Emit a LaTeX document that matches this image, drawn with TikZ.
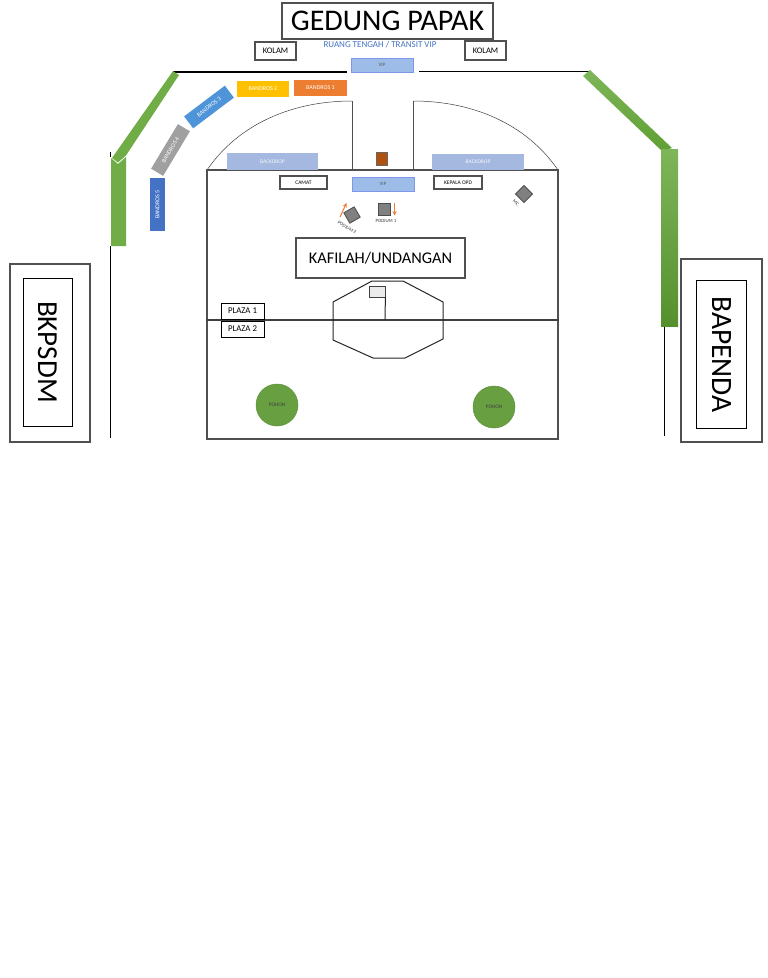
\documentclass[tikz,border=0pt]{standalone}
\usepackage{fontspec}
\setmainfont{Carlito}
\usetikzlibrary{shadings}
\definecolor{grn}{HTML}{70AD47}
\definecolor{grnd}{HTML}{5FA033}
\definecolor{bk}{HTML}{A4B8E0}
\definecolor{vip}{HTML}{9DBDE8}
\definecolor{wall}{HTML}{505050}
\definecolor{band1}{HTML}{ED7D31}
\definecolor{band2}{HTML}{FFC000}
\definecolor{band3}{HTML}{4F94D8}
\definecolor{band4}{HTML}{A0A0A0}
\definecolor{band5}{HTML}{4472C4}
\definecolor{brownbox}{HTML}{B0520F}
\newcommand{\fs}[1]{\fontsize{#1}{#1}\selectfont}
\tikzset{
 glow/.style={draw=wall,line width=1.2pt,fill=white,inner sep=0pt,text=black,
   append after command={
    \pgfextra{\draw[black!16,line width=1.4pt]
      ([shift={(1.6,1.6)}]\tikzlastnode.north west) rectangle ([shift={(-1.6,-1.6)}]\tikzlastnode.south east);}}},
 plain/.style={draw=black,line width=.7pt,fill=white,inner sep=0pt,text=black},
 vipbox/.style={draw=vip!80!blue,line width=.4pt,fill=vip,inner sep=0pt,text=black!65,font=\fs{5}},
 backdrop/.style={fill=bk,inner sep=0pt,text=white!90!bk,font=\fs{5.5}},
 bandros/.style={inner sep=0pt,text=white!85,font=\fs{6}},
 pohon/.style={circle,draw=grn!85!black,line width=.5pt,fill=grn!92!black,inner sep=0pt,minimum size=42pt,text=black!75,font=\fs{5.3}},
 podium/.style={draw=black!70,line width=.8pt,fill=black!50,inner sep=0pt,minimum size=12pt},
 tiny/.style={inner sep=0pt,text=black!80,font=\fs{4.8}},
 wallline/.style={draw=wall,line width=1pt},
 thin/.style={draw=black,line width=.6pt},
 marrow/.style={draw=band1,line width=1pt,-stealth},
}
\begin{document}
\begin{tikzpicture}[x=1pt,y=-1pt]
\useasboundingbox (0,0) rectangle (768,978);
\fill[white] (0,0) rectangle (768,978);

% title
\node[glow,minimum width=211pt,minimum height=36pt,font=\fs{30}] (title) at (387.5,21) {GEDUNG PAPAK};
\node[glow,minimum width=41pt,minimum height=18pt,font=\fs{8.5}] (kolamL) at (275.5,51) {KOLAM};
\node[glow,minimum width=41pt,minimum height=19pt,font=\fs{8.5}] (kolamR) at (485.5,50.5) {KOLAM};
\node[inner sep=0pt,text=band5,font=\fs{9}] (ruang) at (380,45) {RUANG TENGAH / TRANSIT VIP};
\node[vipbox,minimum width=62pt,minimum height=14pt] (vipT) at (382,65) {VIP};

% fence lines
\coordinate (fL1) at (173,72); \coordinate (fL2) at (347,72);
\coordinate (fR1) at (419,71.5); \coordinate (fR2) at (591,71.5);
\draw[black,line width=1.5pt] (fL1) -- (fL2);
\draw[black,line width=1pt] (fR1) -- (fR2);

% thin side lines
\coordinate (sL1) at (110.5,246); \coordinate (sL2) at (110.5,438);
\coordinate (sL3) at (110.5,152); \coordinate (sL4) at (110.5,157);
\coordinate (sR1) at (664.5,326); \coordinate (sR2) at (664.5,436);
\draw[thin] (sL1) -- (sL2);
\draw[thin] (sL3) -- (sL4);
\draw[thin] (sR1) -- (sR2);

% green walls
\fill[grn] (111,158) -- (118,164) -- (126,157) -- (126,246) -- (111,246) -- cycle;
\fill[grn] (173,71) -- (179,75) -- (126,155.5) -- (118,162.5) -- (112,158) -- cycle;
\shade[top color=grn!90!white,bottom color=grnd] (590,70) -- (583,76) -- (662,151) -- (672,148) -- cycle;
\shade[top color=grn!90!white,bottom color=grnd!90!black] (661,149) rectangle (678,326);

% sides
\node[glow,minimum width=80pt,minimum height=178pt] (bkOut) at (50,353) {};
\node[plain,minimum width=49pt,minimum height=148pt,line width=.6pt] (bkIn) at (47.5,352) {};
\node[rotate=-90,inner sep=0pt,text=black,font=\fs{29}] (bk) at (47.5,352) {BKPSDM};
\node[glow,minimum width=81pt,minimum height=183pt] (baOut) at (721.5,350.5) {};
\node[plain,minimum width=50pt,minimum height=148pt,line width=.6pt] (baIn) at (721,354) {};
\node[rotate=-90,inner sep=0pt,text=black,font=\fs{29.5}] (ba) at (721.5,354.5) {BAPENDA};

% stage arcs
\coordinate (aL) at (207,170); \coordinate (aLt) at (352,101); \coordinate (aLb) at (352,170);
\coordinate (aR) at (558,170); \coordinate (aRt) at (413,101); \coordinate (aRb) at (413,170);
\draw[black!75,line width=.5pt] (aL) .. controls (240,122) and (295,101) .. (aLt);
\draw[black!75,line width=.5pt] (aR) .. controls (525,122) and (470,101) .. (aRt);
\draw[wallline] (aLt) -- (aLb);
\draw[wallline] (aRt) -- (aRb);

% backdrops and field
\node[glow,minimum width=351pt,minimum height=269pt] (field) at (382.5,304.5) {};
\node[backdrop,minimum width=91pt,minimum height=17pt] (bdL) at (272.5,161.5) {BACKDROP};
\node[backdrop,minimum width=92pt,minimum height=16pt] (bdR) at (478,162) {BACKDROP};
\draw[draw=black!75,line width=1.2pt] (field.west |- 0,320) coordinate (hL) -- (field.east |- 0,320) coordinate (hR);

% brown
\node[draw=black!60,line width=.8pt,fill=brownbox,minimum width=11pt,minimum height=13pt,inner sep=0pt] (brown) at (381.5,158.5) {};

% seats
\node[glow,minimum width=47pt,minimum height=13pt,font=\fs{5.5}] (camat) at (303.5,182.5) {CAMAT};
\node[vipbox,minimum width=62pt,minimum height=14pt] (vipB) at (383,184) {VIP};
\node[glow,minimum width=48pt,minimum height=13pt,font=\fs{5.5}] (opd) at (458,182.5) {KEPALA OPD};

% podium and MC
\node[podium,rotate=30] (p2) at (352,215) {};
\node[tiny,rotate=-30] (p2l) at (347,227.5) {PODIUM 2};
\node[podium] (p1) at (384,209.5) {};
\node[tiny] (p1l) at (386,220.5) {PODIUM 1};
\coordinate (a1s) at (394.5,203); \coordinate (a1e) at (394.5,215.5);
\draw[marrow] (a1s) -- (a1e);
\coordinate (a2s) at (340,217); \coordinate (a2e) at (346.5,203);
\draw[marrow] (a2s) -- (a2e);
\node[podium,rotate=45] (mc) at (524,194) {};
\node[tiny,rotate=-45] (mcl) at (516,203) {MC};

% kafilah
\node[glow,minimum width=169pt,minimum height=40pt,font=\fs{16.3}] (kaf) at (380.5,258) {KAFILAH/UNDANGAN};

% octagon
\draw[black!85,line width=1pt] (372,281) -- (403,281) -- (443,302) -- (443,339) -- (405,358) -- (373,358) -- (333,340) -- (333,302) -- cycle;
\node[draw=black!75,line width=.8pt,fill=black!8,minimum width=16pt,minimum height=11pt,inner sep=0pt] (ctr) at (377,291.5) {};
\coordinate (ctrF) at (385,320);
\draw[black!85,line width=1pt] (ctr.south east) -- (ctrF);

% plazas
\node[plain,minimum width=43pt,minimum height=16pt,font=\fs{8.8}] (pl1) at (242.5,311) {PLAZA 1};
\node[plain,minimum width=43pt,minimum height=16pt,font=\fs{8.8}] (pl2) at (242.5,329) {PLAZA 2};

% trees
\node[pohon] (t1) at (277,405) {POHON};
\node[pohon] (t2) at (494,407) {POHON};

% bandros
\node[bandros,fill=band1,minimum width=53pt,minimum height=16pt] (b1) at (320.5,88) {BANDROS 1};
\node[bandros,fill=band2,minimum width=52pt,minimum height=16pt] (b2) at (263,89) {BANDROS 2};
\node[bandros,fill=band3,rotate=37,minimum width=51pt,minimum height=15pt] (b3) at (209,107) {BANDROS 3};
\node[bandros,fill=band4,rotate=59,minimum width=52pt,minimum height=14pt] (b4) at (170.5,150) {BANDROS 4};
\node[bandros,fill=band5,rotate=90,minimum width=53pt,minimum height=15pt] (b5) at (157.5,204.5) {BANDROS 5};
\end{tikzpicture}
\end{document}
